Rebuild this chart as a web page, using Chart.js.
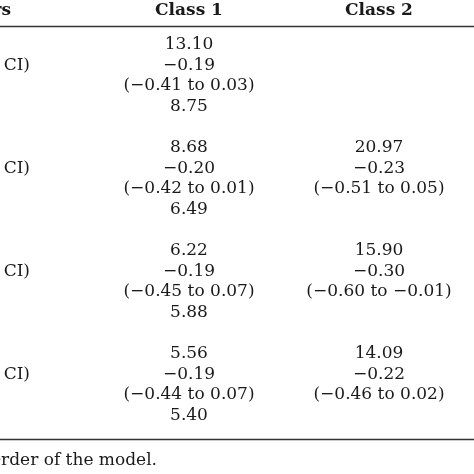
<!DOCTYPE html>
<html><head><meta charset="utf-8">
<script src="https://cdn.jsdelivr.net/npm/chart.js@4"></script>
<style>html,body{margin:0;padding:0;background:#fff}#w{width:474px;height:474px}</style>
</head><body><div id="w"><canvas id="c"></canvas></div>
<script>
const headers = ["Parameters", "Class 1", "Class 2"];
const rowLabels = ["(95% CI)", "(95% CI)", "(95% CI)", "(95% CI)"];
const class1 = [
  ["13.10", "\u22120.19", "(\u22120.41 to 0.03)", "8.75"],
  ["8.68", "\u22120.20", "(\u22120.42 to 0.01)", "6.49"],
  ["6.22", "\u22120.19", "(\u22120.45 to 0.07)", "5.88"],
  ["5.56", "\u22120.19", "(\u22120.44 to 0.07)", "5.40"]
];
const class2 = [
  [],
  ["20.97", "\u22120.23", "(\u22120.51 to 0.05)"],
  ["15.90", "\u22120.30", "(\u22120.60 to \u22120.01)"],
  ["14.09", "\u22120.22", "(\u22120.46 to 0.02)"]
];
const footnote = "Order of the model.";

const FONT = '"DejaVu Serif", "Liberation Serif", serif';
const tablePlugin = {
  id: 'table',
  afterDraw(chart) {
    const ctx = chart.ctx, xs = chart.scales.x, ys = chart.scales.y;
    const X = v => xs.getPixelForValue(v), Y = v => ys.getPixelForValue(v);
    ctx.save();
    ctx.fillStyle = '#1a1a1a';
    ctx.textBaseline = 'middle';
    ctx.font = '600 17px ' + FONT;
    ctx.textAlign = 'right'; ctx.fillText(headers[0], X(11), Y(11));
    ctx.textAlign = 'center';
    ctx.fillText(headers[1], X(189), Y(11));
    ctx.fillText(headers[2], X(379), Y(11));
    ctx.font = '17px ' + FONT;
    const blockTop = [45, 148, 251, 354], step = 20.5;
    for (let b = 0; b < 4; b++) {
      ctx.textAlign = 'right';
      ctx.fillText(rowLabels[b], X(30), Y(blockTop[b] + step));
      ctx.textAlign = 'center';
      class1[b].forEach((t, i) => ctx.fillText(t, X(189), Y(blockTop[b] + i * step)));
      class2[b].forEach((t, i) => ctx.fillText(t, X(379), Y(blockTop[b] + i * step)));
    }
    ctx.textAlign = 'right';
    ctx.fillText(footnote, X(157), Y(461));
    ctx.strokeStyle = '#333'; ctx.lineWidth = 1.5;
    [26.5, 439.5].forEach(y => { ctx.beginPath(); ctx.moveTo(X(0), Y(y)); ctx.lineTo(X(474), Y(y)); ctx.stroke(); });
    ctx.restore();
  }
};
new Chart(document.getElementById('c'), {
  type: 'scatter',
  data: { datasets: [{ data: [] }] },
  options: {
    responsive: true, maintainAspectRatio: false, animation: false,
    layout: { padding: 0 },
    plugins: { legend: { display: false }, tooltip: { enabled: false } },
    scales: {
      x: { type: 'linear', min: 0, max: 474, display: false },
      y: { type: 'linear', min: 0, max: 474, reverse: true, display: false }
    }
  },
  plugins: [tablePlugin]
});
</script></body></html>
